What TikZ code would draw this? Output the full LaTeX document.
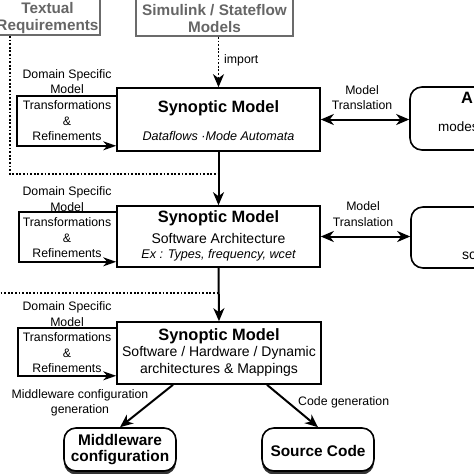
\documentclass[tikz,border=0pt]{standalone}
\usepackage{fontspec}
\setmainfont{Liberation Sans}
\usetikzlibrary{arrows.meta,shadows}
\begin{document}
\begin{tikzpicture}[x=1pt,y=-1pt,
  box/.style={draw=black, line width=1.6pt, rectangle, inner sep=0pt, fill=white},
  gbox/.style={draw=black!58, line width=1.8pt, rectangle, inner sep=0pt, fill=white},
  rbox/.style={draw=black, line width=1.6pt, rectangle, rounded corners=12pt, inner sep=0pt, fill=white},
  sbox/.style={rbox, drop shadow={shadow xshift=0pt, shadow yshift=-3.5pt, fill=black!80, opacity=1}},
  tip/.style={-{Stealth[length=13pt,width=11pt,inset=4pt]}},
  conn/.style={line width=2pt, tip},
  dconn/.style={line width=2pt, {Stealth[length=13pt,width=11pt,inset=4pt]}-{Stealth[length=13pt,width=11pt,inset=4pt]}},
  loopl/.style={line width=1.8pt, -{Stealth[length=13pt,width=9pt,inset=4pt]}},
  dots/.style={line width=1.8pt, dash pattern=on 1.8pt off 1.8pt},
  small/.style={font=\fontsize{12.3}{15.5}\selectfont, align=center, inner sep=0pt},
  title/.style={font=\fontsize{16.4}{18}\selectfont\bfseries, inner sep=0pt},
  mid/.style={font=\fontsize{14}{17}\selectfont, inner sep=0pt},
  ital/.style={font=\fontsize{12.6}{15}\selectfont\itshape, inner sep=0pt},
  gtext/.style={font=\fontsize{15.3}{17}\selectfont\bfseries, text=black!60, align=center, inner sep=0pt},
  btext/.style={font=\fontsize{15.4}{16.5}\selectfont\bfseries, align=center, inner sep=0pt}
]
\useasboundingbox (0,0) rectangle (474,474);
\clip (0,0) rectangle (474,474);

% top sources
\node[gbox, minimum width=105pt, minimum height=40pt] (treq) at (47.5,15) {};
\node[gtext] (treqt) at (47.5,18) {Textual\\Requirements};
\node[gbox, minimum width=157pt, minimum height=41pt] (sim) at (214.5,15.5) {};
\node[gtext] (simt) at (214.5,18.5) {Simulink / Stateflow\\Models};

% main boxes
\node[box, minimum width=203pt, minimum height=63pt] (b1) at (218.5,119.5) {};
\node[title] (b1t) at (218.5,108) {Synoptic Model};
\node[ital] (b1s) at (218.5,136) {Dataflows ·Mode Automata};

\node[box, minimum width=203pt, minimum height=61pt] (b2) at (218.5,236.5) {};
\node[title] (b2t) at (218.5,218) {Synoptic Model};
\node[mid] (b2s) at (218.5,238) {Software Architecture};
\node[ital] (b2e) at (218.5,255) {Ex : Types, frequency, wcet};

\node[box, minimum width=204pt, minimum height=62pt] (b3) at (219,353) {};
\node[title] (b3t) at (219,336) {Synoptic Model};
\node[mid, align=center, font=\fontsize{14}{17.5}\selectfont] (b3s) at (219,361.5) {Software / Hardware / Dynamic\\architectures \& Mappings};

% right boxes
\node[rbox, minimum width=150pt, minimum height=63pt] (r1) at (485,118.5) {};
\node[title, anchor=west] (r1t) at (461,98) {A};
\node[mid, anchor=west, font=\fontsize{13.5}{16}\selectfont] (r1s) at (438,127) {modes};
\node[rbox, minimum width=150pt, minimum height=61pt] (r2) at (486,237.5) {};
\node[mid, anchor=west] (r2s) at (462,256) {sc};

% bottom boxes
\node[sbox, minimum width=112pt, minimum height=43pt] (mw) at (120,449.5) {};
\node[btext] (mwt) at (120,449.5) {Middleware\\configuration};
\node[sbox, minimum width=112pt, minimum height=43pt] (sc) at (318,449.5) {};
\node[btext] (sct) at (318,451) {Source Code};

% import
\draw[dots, tip] (sim.south -| b1.north) -- (b1.north);
\node[small, anchor=west] (imp) at (224,60) {import};

% dotted feedback lines
\coordinate (j1) at (218.5,174);
\draw[dots] ([xshift=-37.5pt]treq.south) |- (j1);
\coordinate (j0) at (-3,293);
\coordinate (j2) at (218.5,293);
\draw[dots] (j0) -- (j2);

% vertical flow
\draw[conn] (b1.south) -- (b2.north);
\draw[conn] (b2.south) -- (b3.north);

% loops
\draw[loopl] ([yshift=-9pt]b1.north west) -- ++(-99,0) |- ([yshift=6pt]b1.south west);
\node[small] (l1) at (67,121) {Transformations\\\&\\Refinements};
\node[small] (d1) at (67,81.5) {Domain Specific\\Model};

\draw[loopl] ([yshift=-7pt]b2.north west) -- ++(-97,0) |- ([yshift=6pt]b2.south west);
\node[small] (l2) at (67,238) {Transformations\\\&\\Refinements};
\node[small] (d2) at (67,199) {Domain Specific\\Model};

\draw[loopl] ([yshift=-7pt]b3.north west) -- ++(-98,0) |- ([yshift=9pt]b3.south west);
\node[small] (l3) at (67,353) {Transformations\\\&\\Refinements};
\node[small] (d3) at (67,314) {Domain Specific\\Model};

% model translation
\draw[dconn] (b1.east) -- (b1.east -| r1.west);
\node[small] (mt1) at (362,97.5) {Model\\Translation};
\draw[dconn] (b2.east) -- (b2.east -| r2.west);
\node[small] (mt2) at (363,214) {Model\\Translation};

% generation
\draw[conn] ([xshift=-46pt]b3.south) -- (mw.north);
\node[small] (mwl) at (80,403) {Middleware configuration\\generation};
\draw[conn] ([xshift=48pt]b3.south) -- (sc.north);
\node[small, anchor=west] (cgl) at (298,402) {Code generation};
\end{tikzpicture}
\end{document}
